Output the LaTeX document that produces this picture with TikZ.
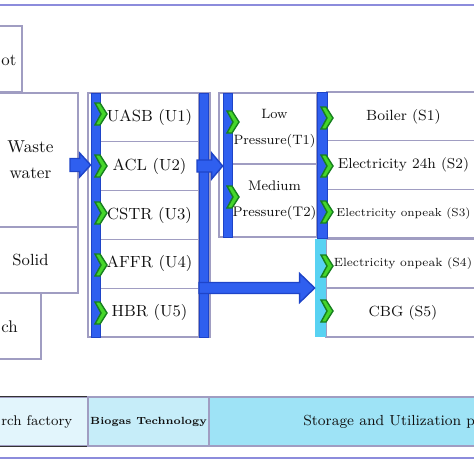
\documentclass[tikz,border=0pt]{standalone}
\usepackage{tikz}
\usetikzlibrary{positioning, calc}

\definecolor{barBlue}{HTML}{2F5FEF}
\definecolor{barEdge}{HTML}{1E44C8}
\definecolor{barCyan}{HTML}{58D2F2}
\definecolor{chevGreen}{HTML}{45D62A}
\definecolor{chevEdge}{HTML}{17801F}
\definecolor{cellLine}{HTML}{A09DC2}
\definecolor{frameLine}{HTML}{8C8CDC}
\definecolor{stageOne}{HTML}{E2F5FC}
\definecolor{stageTwo}{HTML}{C6EDF9}
\definecolor{stageThree}{HTML}{9EE3F6}
\definecolor{inkText}{HTML}{111111}

% one picture unit = one pixel of the sketch
\def\px{0.02cm}

% box node: name, left, top, right, bottom, style, text
\newcommand{\boxNode}[7]{%
  \node[#6, minimum width={(#4-#2)*\px}, minimum height={(#5-#3)*\px}]
    (#1) at ({(#2+#4)/2},{(#3+#5)/2}) {#7};}

% block arrow: start, target, shaft half, head half, head length
\newcommand{\blockArrow}[5]{%
  \coordinate (tip) at (#1 -| #2);
  \filldraw[flowArrow] ($(#1)+(0,-#3)$) -- ($(tip)+(-#5,-#3)$) -- ($(tip)+(-#5,-#4)$) -- (tip)
    -- ($(tip)+(-#5,#4)$) -- ($(tip)+(-#5,#3)$) -- ($(#1)+(0,#3)$) -- cycle;}

\begin{document}
\begin{tikzpicture}[x=\px, y=-\px,
  cell/.style={draw=cellLine, line width=0.7pt, inner sep=0pt, align=center, text=inkText},
  blueBar/.style={fill=barBlue, draw=barEdge, line width=0.4pt, inner sep=0pt},
  cyanBar/.style={fill=barCyan, draw=none, inner sep=0pt},
  flowArrow/.style={fill=barBlue, draw=barEdge, line width=0.8pt, line join=miter},
  chev/.pic={\filldraw[fill=chevGreen, draw=chevEdge, line width=0.8pt, line join=miter]
    (-6,-11) -- (-1,-11) -- (6,0) -- (-1,11) -- (-6,11) -- (0,0) -- cycle;},
  plain/.style={inner sep=0pt, text=inkText}]

\useasboundingbox (0,0) rectangle (474,474);
\clip (0,0) rectangle (474,474);

% Frame
\draw[frameLine, line width=0.8pt] (-20,5) rectangle (494,458);

% Raw material
\boxNode{rootBox}{-40}{26}{22}{92}{cell}{}
\node[plain, anchor=west, font=\fontsize{9.6}{12}\selectfont] (rootText) at (1,60) {ot};
\boxNode{waste}{-17}{93}{78}{227}{cell, font=\fontsize{9.8}{14.7}\selectfont}{Waste\\water}
\boxNode{solid}{-17}{227}{78}{293}{cell, font=\fontsize{9.2}{11}\selectfont}{Solid}
\boxNode{chBox}{-40}{293}{41}{359}{cell}{}
\node[plain, anchor=west, font=\fontsize{9.6}{12}\selectfont] (chText) at (1,327) {ch};

% Biogas units
\boxNode{uFrame}{88}{93}{210}{337}{cell}{}
\foreach \lbl [count=\i] in {UASB (U1), ACL (U2), CSTR (U3), AFFR (U4), HBR (U5)} {
  \pgfmathsetmacro{\rowTop}{93+(\i-1)*48.8}
  \pgfmathsetmacro{\rowBot}{\rowTop+48.8}
  \boxNode{u\i}{100}{\rowTop}{199}{\rowBot}{cell, font=\fontsize{9.2}{11}\selectfont}{\lbl}
}
\boxNode{uBarL}{91}{93}{100}{337}{blueBar}{}
\boxNode{uBarR}{199}{93}{208}{337}{blueBar}{}

% Gas pressure
\boxNode{tFrame}{219}{93}{317}{237}{cell}{}
\boxNode{t1}{232}{93}{317}{164}{cell, font=\fontsize{7.7}{14.7}\selectfont}{Low\\Pressure(T1)}
\boxNode{t2}{232}{164}{317}{237}{cell, font=\fontsize{7.9}{14.7}\selectfont}{Medium\\Pressure(T2)}
\boxNode{tBar}{223}{93}{232}{237}{blueBar}{}

% Storage and utilization
\foreach \lbl/\fs [count=\i] in {Boiler (S1)/8.4, Electricity 24h (S2)/8.2, Electricity onpeak (S3)/6.6} {
  \pgfmathsetmacro{\rowTop}{92+(\i-1)*48.7}
  \pgfmathsetmacro{\rowBot}{\rowTop+48.7}
  \boxNode{s\i}{327}{\rowTop}{480}{\rowBot}{cell, font=\fontsize{\fs}{11}\selectfont}{\lbl}
}
\boxNode{s4}{326}{239}{480}{288}{cell, font=\fontsize{6.8}{11}\selectfont}{Electricity onpeak (S4)}
\boxNode{s5}{326}{288}{480}{337}{cell, font=\fontsize{8.4}{11}\selectfont}{CBG (S5)}
\boxNode{sBarUp}{317}{92}{327}{238}{blueBar}{}
\boxNode{sBarLow}{315}{239}{326}{337}{cyanBar}{}

% Flow arrows
\coordinate (wwOut) at (70,165);
\coordinate (uOut) at (197,166);
\coordinate (uOutLow) at (199,288);
\blockArrow{wwOut}{uBarL.west}{6.5}{12}{11}
\blockArrow{uOut}{tBar.west}{6}{13}{11}
\blockArrow{uOutLow}{sBarLow.west}{5.5}{14.5}{15}

% Chevrons
\foreach \cx/\cy in {101/114, 101/166, 101/213, 101/265, 101/313,
                     233/122, 233/197,
                     327/118, 327/166, 327/212, 327/266, 327/311}
  \pic at (\cx,\cy) {chev};

% Stages
\boxNode{stageA}{-20}{397}{88}{446}{cell, fill=stageOne}{}
\draw[black!80, line width=1pt] (stageA.north west) -- (stageA.north east)
  (stageA.south west) -- (stageA.south east);
\node[plain, anchor=west, font=\fontsize{8}{10}\selectfont] (stageAText) at (1,422) {rch factory};
\boxNode{stageB}{88}{397}{209}{446}{cell, fill=stageTwo, font=\fontsize{5.9}{8}\selectfont\bfseries}{Biogas Technology}
\boxNode{stageC}{209}{397}{500}{446}{cell, fill=stageThree}{}
\node[plain, anchor=west, font=\fontsize{8.3}{11}\selectfont] (stageCText) at (303,422) {Storage and Utilization p};

\end{tikzpicture}
\end{document}
